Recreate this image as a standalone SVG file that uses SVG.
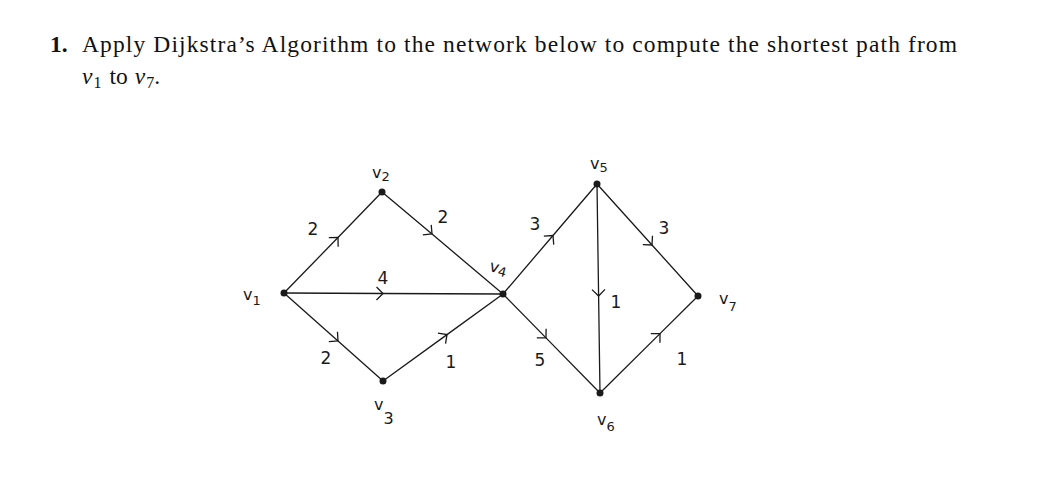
<svg xmlns="http://www.w3.org/2000/svg" width="1051" height="481" viewBox="0 0 1051 481">
<style>
.title{font-family:"Liberation Serif","Times New Roman",serif;font-size:23.5px;fill:#111}
.edge{fill:none;stroke:#1a1a1a;stroke-width:1.3;marker-mid:url(#chev)}
.dot{fill:#1a1a1a}
.lbl{font-family:"DejaVu Sans","Liberation Sans",sans-serif;font-size:16px;fill:#1a1a1a}
.sub{font-size:13px}
.w{font-family:"DejaVu Sans","Liberation Sans",sans-serif;font-size:17px;fill:#1a1a1a;text-anchor:middle}
</style>
<defs>
<marker id="chev" markerUnits="userSpaceOnUse" markerWidth="20" markerHeight="20" viewBox="-10 -10 20 20" refX="0" refY="0" orient="auto">
<path d="M-6.5,-6.5 L0,0 L-6.5,6.5" fill="none" stroke="#1a1a1a" stroke-width="1.3"/>
</marker>
</defs>
<rect width="1051" height="481" fill="#fff"/>
<g id="title">
<text class="title" x="50" y="52"><tspan font-weight="bold">1.</tspan></text>
<text class="title" x="82" y="52" textLength="875" lengthAdjust="spacing">Apply Dijkstra’s Algorithm to the network below to compute the shortest path from</text>
<text class="title" x="82" y="84" font-size="24"><tspan font-style="italic">v</tspan><tspan font-size="16" dy="4" dx="1">1</tspan><tspan dy="-4" dx="8">to</tspan><tspan font-style="italic" dx="7">v</tspan><tspan font-size="16" dy="4" dx="1">7</tspan><tspan dy="-4">.</tspan></text>
</g>
<g id="connectors">
<path class="edge" d="M284,293 L338,237.5 L382,192"/>
<path class="edge" d="M382,192 L432,234 L503,294"/>
<path class="edge" d="M284,293 L383,293.5 L503,294"/>
<path class="edge" d="M284,293 L338,341 L383,381"/>
<path class="edge" d="M383,381 L447,334.6 L503,294"/>
<path class="edge" d="M503,294 L553,235.5 L597,184"/>
<path class="edge" d="M597,184 L652,245 L698,296"/>
<path class="edge" d="M597,184 L598.6,296 L600,393"/>
<path class="edge" d="M503,294 L546,337.9 L600,393"/>
<path class="edge" d="M600,393 L660,333.6 L698,296"/>
<text class="w" x="313" y="235">2</text>
<text class="w" x="443" y="223">2</text>
<text class="w" x="383" y="284">4</text>
<text class="w" x="326" y="364">2</text>
<text class="w" x="451" y="368">1</text>
<text class="w" x="535" y="230">3</text>
<text class="w" x="664" y="234">3</text>
<text class="w" x="616" y="308">1</text>
<text class="w" x="540" y="366">5</text>
<text class="w" x="682" y="365">1</text>
</g>
<g id="v1"><circle class="dot" cx="284" cy="293" r="3.5"/><text class="lbl" x="243" y="300">v<tspan class="sub" dy="5">1</tspan></text></g>
<g id="v2"><circle class="dot" cx="382" cy="192" r="3.5"/><text class="lbl" x="372" y="178">v<tspan class="sub" dy="3">2</tspan></text></g>
<g id="v3"><circle class="dot" cx="383" cy="381" r="3.5"/><text class="lbl" x="374" y="410">v<tspan dy="14" style="font-size:16px">3</tspan></text></g>
<g id="v4"><circle class="dot" cx="503" cy="294" r="3.5"/><text class="lbl" x="489" y="273" transform="rotate(15 497 270)">v<tspan class="sub" dy="2">4</tspan></text></g>
<g id="v5"><circle class="dot" cx="597" cy="184" r="3.5"/><text class="lbl" x="590" y="169">v<tspan class="sub" dy="3">5</tspan></text></g>
<g id="v6"><circle class="dot" cx="600" cy="393" r="3.5"/><text class="lbl" x="597" y="425">v<tspan class="sub" dy="6">6</tspan></text></g>
<g id="v7"><circle class="dot" cx="698" cy="296" r="3.5"/><text class="lbl" x="719" y="304">v<tspan class="sub" dy="7">7</tspan></text></g>
</svg>
